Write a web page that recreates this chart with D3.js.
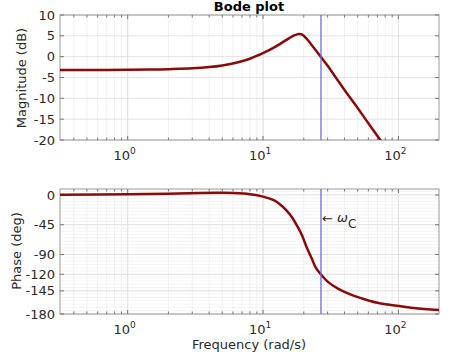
<!DOCTYPE html>
<html>
<head>
<meta charset="utf-8">
<script src="https://cdn.jsdelivr.net/npm/d3@7"></script>
<style>
  body { margin: 0; background: #fff; }
  text { font-family: 'DejaVu Sans', sans-serif; }
</style>
</head>
<body>
<div id="chart"></div>
<script>
// values
const magFreq = [0.316, 0.5, 1, 1.5, 2, 3, 4, 5, 6.66, 8, 9.3, 11, 13.1, 15.5, 17, 18.4, 19.5, 21, 23, 26.7, 30, 35, 40, 50, 60, 73.5, 80]
const magDb = [-3.2, -3.2, -3.15, -3.1, -3.0, -2.8, -2.5, -2.1, -1.3, -0.5, 0.4, 1.5, 2.9, 4.4, 5.1, 5.45, 5.3, 4.3, 2.7, 0, -2.2, -5.3, -8.0, -12.3, -16.0, -20, -21.6]
const phaseFreq = [0.316, 1, 2, 3.4, 5, 6, 8, 10, 12, 13.1, 15, 16.4, 18, 19.4, 21, 23, 24.4, 26.7, 30, 36, 45, 53, 70, 94, 130, 200]
const phaseDeg = [0.3, 1, 2, 3, 3.2, 2.8, 1, -2.5, -8, -13, -24, -34, -48, -61, -79, -97, -109, -120, -131, -142, -151, -156, -163, -167, -171, -174]
const crossover = 26.8
const magTicks = [10, 5, 0, -5, -10, -15, -20]
const phaseTicks = [0, -45, -90, -120, -145, -180]
const freqTicks = [1, 10, 100]

const W = 474
const H = 352
const plot = { left: 60, right: 439 }
const LINE = '#8b0a0a'
const VLINE = '#6b6be8'

const svg = d3.select('#chart').append('svg')
  .attr('width', W)
  .attr('height', H)

const x = d3.scaleLog()
  .domain([Math.pow(10, -0.5), Math.pow(10, 2.3)])
  .range([plot.left, plot.right])

const minorFreq = []
for (let e = -1; e <= 2; e++) {
  for (let k = 1; k <= 9; k++) {
    const v = k * Math.pow(10, e)
    if (v >= x.domain()[0] && v <= x.domain()[1]) minorFreq.push(v)
  }
}

function panel (y0, y1, yDomain, yTicks, yMinor, id) {
  const y = d3.scaleLinear().domain(yDomain).range([y1, y0])
  const g = svg.append('g')

  g.append('defs').append('clipPath').attr('id', id)
    .append('rect')
    .attr('x', plot.left).attr('y', y0)
    .attr('width', plot.right - plot.left).attr('height', y1 - y0)

  // minor grid
  g.selectAll('.vminor').data(minorFreq).join('line')
    .attr('x1', d => x(d)).attr('x2', d => x(d))
    .attr('y1', y0).attr('y2', y1)
    .attr('stroke', '#ebebeb').attr('stroke-width', 0.7)
  g.selectAll('.hminor').data(yMinor).join('line')
    .attr('x1', plot.left).attr('x2', plot.right)
    .attr('y1', d => y(d)).attr('y2', d => y(d))
    .attr('stroke', '#efefef').attr('stroke-width', 0.7)
  // major grid
  g.selectAll('.vmajor').data(freqTicks).join('line')
    .attr('x1', d => x(d)).attr('x2', d => x(d))
    .attr('y1', y0).attr('y2', y1)
    .attr('stroke', '#dcdcdc').attr('stroke-width', 0.8)
  g.selectAll('.hmajor').data(yTicks).join('line')
    .attr('x1', plot.left).attr('x2', plot.right)
    .attr('y1', d => y(d)).attr('y2', d => y(d))
    .attr('stroke', '#dcdcdc').attr('stroke-width', 0.8)

  // frame
  g.append('rect')
    .attr('x', plot.left).attr('y', y0)
    .attr('width', plot.right - plot.left).attr('height', y1 - y0)
    .attr('fill', 'none').attr('stroke', '#9a9a9a').attr('stroke-width', 1)

  // ticks (inside, on all sides)
  const tickLen = 4
  const minorLen = 2.5
  g.selectAll('.xt').data(minorFreq).join('line')
    .attr('x1', d => x(d)).attr('x2', d => x(d))
    .attr('y1', y1).attr('y2', d => y1 - (freqTicks.includes(d) ? tickLen : minorLen))
    .attr('stroke', '#777')
  g.selectAll('.xtt').data(minorFreq).join('line')
    .attr('x1', d => x(d)).attr('x2', d => x(d))
    .attr('y1', y0).attr('y2', d => y0 + (freqTicks.includes(d) ? tickLen : minorLen))
    .attr('stroke', '#777')
  g.selectAll('.yt').data(yTicks).join('line')
    .attr('x1', plot.left).attr('x2', plot.left + tickLen)
    .attr('y1', d => y(d)).attr('y2', d => y(d))
    .attr('stroke', '#777')
  g.selectAll('.ytr').data(yTicks).join('line')
    .attr('x1', plot.right).attr('x2', plot.right - tickLen)
    .attr('y1', d => y(d)).attr('y2', d => y(d))
    .attr('stroke', '#777')

  // tick labels
  g.selectAll('.yl').data(yTicks).join('text')
    .attr('x', plot.left - 5)
    .attr('y', d => y(d))
    .attr('dy', '0.35em')
    .attr('text-anchor', 'end')
    .attr('font-size', 13)
    .attr('fill', '#2a2a2a')
    .text(d => d)
  const xl = g.selectAll('.xl').data(freqTicks).join('text')
    .attr('x', d => x(d) - 3)
    .attr('y', y1 + 20)
    .attr('text-anchor', 'middle')
    .attr('font-size', 13)
    .attr('fill', '#2a2a2a')
  xl.append('tspan').text('10')
  xl.append('tspan').attr('dy', -6).attr('font-size', 9).text(d => Math.round(Math.log10(d)))

  return { g, y }
}

const magPanel = panel(15, 140, [-20, 10], magTicks, [], 'clipMag')
const phasePanel = panel(189, 314, [-180, 9], phaseTicks, d3.range(-175, 9, 5), 'clipPhase')

// crossover marker
;[[15, 140], [189, 314]].forEach(([t, b]) => {
  svg.append('line')
    .attr('x1', x(crossover)).attr('x2', x(crossover))
    .attr('y1', t).attr('y2', b)
    .attr('stroke', VLINE).attr('stroke-width', 1.3)
})

const magLine = d3.line()
  .x((d, i) => x(magFreq[i]))
  .y(d => magPanel.y(d))
  .curve(d3.curveCatmullRom.alpha(0.5))
magPanel.g.append('path')
  .datum(magDb)
  .attr('d', magLine)
  .attr('clip-path', 'url(#clipMag)')
  .attr('fill', 'none')
  .attr('stroke', LINE)
  .attr('stroke-width', 2.5)

const phaseLine = d3.line()
  .x((d, i) => x(phaseFreq[i]))
  .y(d => phasePanel.y(d))
  .curve(d3.curveCatmullRom.alpha(0.5))
phasePanel.g.append('path')
  .datum(phaseDeg)
  .attr('d', phaseLine)
  .attr('clip-path', 'url(#clipPhase)')
  .attr('fill', 'none')
  .attr('stroke', LINE)
  .attr('stroke-width', 2.5)

// annotation
const ann = svg.append('text')
  .attr('x', x(crossover) + 1)
  .attr('y', 223)
  .attr('font-size', 13)
  .attr('fill', '#2a2a2a')
ann.append('tspan').text('\u2190 ')
ann.append('tspan').attr('font-style', 'italic').attr('dy', -1).text('\u03c9')
ann.append('tspan').attr('dy', 6).attr('font-size', 12).text('C')

// titles
svg.append('text')
  .attr('x', 249).attr('y', 11)
  .attr('text-anchor', 'middle')
  .attr('font-size', 13).attr('font-weight', 'bold')
  .attr('fill', '#000')
  .text('Bode plot')
svg.append('text')
  .attr('transform', 'translate(26,78) rotate(-90)')
  .attr('text-anchor', 'middle')
  .attr('font-size', 13).attr('fill', '#2a2a2a')
  .text('Magnitude (dB)')
svg.append('text')
  .attr('transform', 'translate(21,251) rotate(-90)')
  .attr('text-anchor', 'middle')
  .attr('font-size', 13).attr('fill', '#2a2a2a')
  .text('Phase (deg)')
svg.append('text')
  .attr('x', 249).attr('y', 349)
  .attr('text-anchor', 'middle')
  .attr('font-size', 13).attr('fill', '#2a2a2a')
  .text('Frequency (rad/s)')
</script>
</body>
</html>
